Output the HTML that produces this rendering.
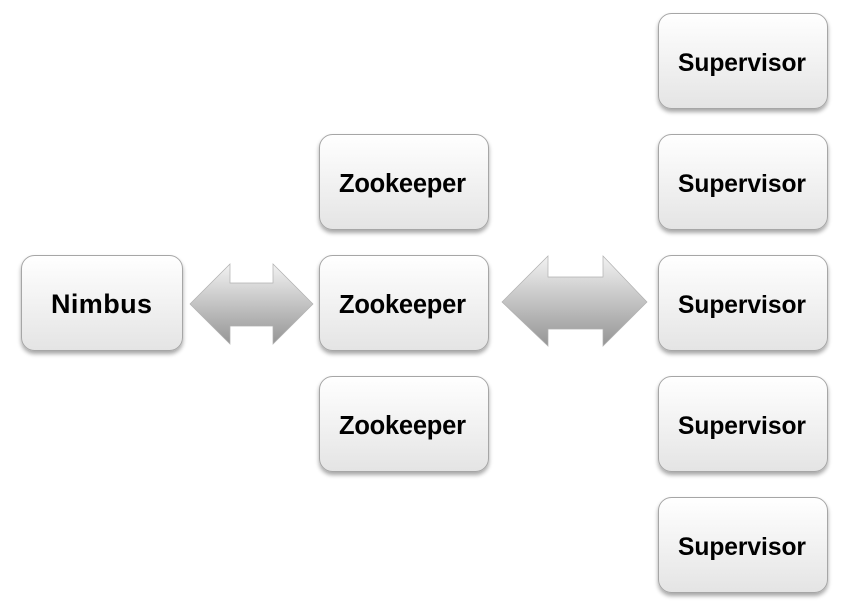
<!DOCTYPE html>
<html><head><meta charset="utf-8"><style>
html,body{margin:0;padding:0;background:#fff;}
svg{display:block;}
text{font-family:"Liberation Sans",sans-serif;font-weight:bold;font-size:24.6px;fill:#000;}
</style></head><body>
<svg width="855" height="612" viewBox="0 0 855 612" xmlns="http://www.w3.org/2000/svg">
<defs>
<linearGradient id="bx" x1="0" y1="0" x2="0" y2="1">
<stop offset="0" stop-color="#ffffff"/><stop offset="1" stop-color="#e4e4e4"/>
</linearGradient>
<linearGradient id="ar" x1="0" y1="0" x2="0" y2="1">
<stop offset="0" stop-color="#f2f2f2"/><stop offset="1" stop-color="#959595"/>
</linearGradient>
<filter id="sh" x="-10%" y="-10%" width="120%" height="130%">
<feGaussianBlur in="SourceAlpha" stdDeviation="2"/>
<feOffset dx="0" dy="3" result="o"/>
<feComponentTransfer><feFuncA type="linear" slope="0.35"/></feComponentTransfer>
<feMerge><feMergeNode/><feMergeNode in="SourceGraphic"/></feMerge>
</filter>
</defs>

<!-- Nimbus -->
<rect x="21.5" y="255.5" width="161" height="95" rx="13" fill="url(#bx)" stroke="#a6a6a6" filter="url(#sh)"/>
<text x="51" y="313" style="font-size:27px" textLength="101" lengthAdjust="spacing">Nimbus</text>

<!-- Zookeepers -->
<rect x="319.5" y="134.5" width="169" height="95" rx="13" fill="url(#bx)" stroke="#a6a6a6" filter="url(#sh)"/>
<text x="339" y="192" style="font-size:25.5px" textLength="127" lengthAdjust="spacing">Zookeeper</text>
<rect x="319.5" y="255.5" width="169" height="95" rx="13" fill="url(#bx)" stroke="#a6a6a6" filter="url(#sh)"/>
<text x="339" y="313" style="font-size:25.5px" textLength="127" lengthAdjust="spacing">Zookeeper</text>
<rect x="319.5" y="376.5" width="169" height="95" rx="13" fill="url(#bx)" stroke="#a6a6a6" filter="url(#sh)"/>
<text x="339" y="434" style="font-size:25.5px" textLength="127" lengthAdjust="spacing">Zookeeper</text>

<!-- Supervisors -->
<rect x="658.5" y="13.5" width="169" height="95" rx="13" fill="url(#bx)" stroke="#a6a6a6" filter="url(#sh)"/>
<text x="678" y="71" textLength="128" lengthAdjust="spacing">Supervisor</text>
<rect x="658.5" y="134.5" width="169" height="95" rx="13" fill="url(#bx)" stroke="#a6a6a6" filter="url(#sh)"/>
<text x="678" y="192" textLength="128" lengthAdjust="spacing">Supervisor</text>
<rect x="658.5" y="255.5" width="169" height="95" rx="13" fill="url(#bx)" stroke="#a6a6a6" filter="url(#sh)"/>
<text x="678" y="313" textLength="128" lengthAdjust="spacing">Supervisor</text>
<rect x="658.5" y="376.5" width="169" height="95" rx="13" fill="url(#bx)" stroke="#a6a6a6" filter="url(#sh)"/>
<text x="678" y="434" textLength="128" lengthAdjust="spacing">Supervisor</text>
<rect x="658.5" y="497.5" width="169" height="95" rx="13" fill="url(#bx)" stroke="#a6a6a6" filter="url(#sh)"/>
<text x="678" y="555" textLength="128" lengthAdjust="spacing">Supervisor</text>

<!-- Arrow 1 -->
<polygon points="190,304 230,264 230,283 273,283 273,264 313,304 273,344 273,326 230,326 230,344" fill="url(#ar)" stroke="#b0b0b0" stroke-width="0.7"/>

<!-- Arrow 2 -->
<polygon points="502,302 548,256 548,277 603,277 603,256 647,302 603,346 603,329 548,329 548,346" fill="url(#ar)" stroke="#b0b0b0" stroke-width="0.7"/>
</svg>
</body></html>
